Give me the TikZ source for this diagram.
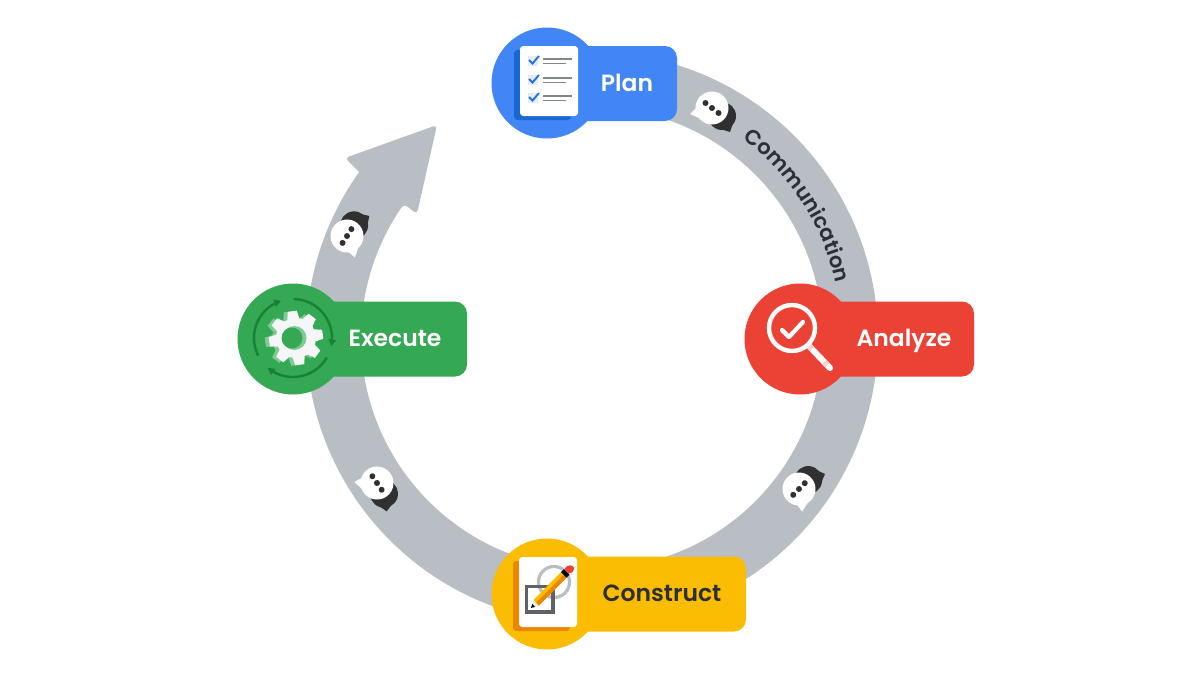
\documentclass[tikz,border=0pt]{standalone}
\usepackage{fontspec}
\setmainfont{Poppins}[BoldFont={Poppins SemiBold}]
\usetikzlibrary{decorations.text,arrows.meta}
\definecolor{ringc}{HTML}{B9BEC4}
\definecolor{gblue}{HTML}{4285F4}
\definecolor{gbluedark}{HTML}{1967D2}
\definecolor{gcheck}{HTML}{1A73E8}
\definecolor{gred}{HTML}{EA4335}
\definecolor{gpink}{HTML}{FAD2CF}
\definecolor{gyellow}{HTML}{FBBC04}
\definecolor{gorange}{HTML}{EA8600}
\definecolor{ggreen}{HTML}{34A853}
\definecolor{ggreendark}{HTML}{188038}
\definecolor{ggreenlight}{HTML}{81C995}
\definecolor{ggrey}{HTML}{80868B}
\definecolor{gdgrey}{HTML}{5F6368}
\definecolor{glgrey}{HTML}{E8EAED}
\definecolor{ink}{HTML}{2B2F36}
\definecolor{bubdark}{HTML}{303030}
\definecolor{gwhite}{HTML}{F5F6F7}
\newcommand{\lblfont}{\fontsize{17.6}{20}\selectfont\bfseries}
\newcommand{\commfont}{\fontsize{15.8}{18}\selectfont\bfseries\color{ink}}
\tikzset{
  x=0.75pt,y=-0.75pt,
  disc/.style={circle,inner sep=0pt,minimum size=111*0.75pt},
  bar/.style={rectangle,rounded corners=9pt,inner sep=0pt,minimum height=75*0.75pt},
  lbl/.style={inner sep=0pt,font=\lblfont},
  card/.style={rounded corners=2.5pt},
  cyc/.style={draw=ggreendark,line width=1.8pt,-{Triangle[length=5pt,width=5.5pt]}},
  bubble/.pic={
    \fill[bubdark] (10,8) circle[radius=14];
    \fill[bubdark] (5,20) -- (18,24) -- (22,12) -- cycle;
    \fill[white] (-22,6) -- (-15,-1) -- (-11,11) -- cycle;
    \fill[white] (0,0) circle[radius=16.5];
    \fill[bubdark] (-6.5,-5) circle[radius=3] (0,0) circle[radius=3] (6.5,5) circle[radius=3];
  },
  gearform/.pic={
    \fill (0,0) circle[radius=20];
    \foreach \a in {8,53,98,143,188,233,278,323}
      \fill[rotate=\a] (17,-6.5) -- (27,-4.5) -- (27,4.5) -- (17,6.5) -- cycle;
  },
  checkrow/.pic={
    \fill[glgrey] (-5,-5) rectangle (5,5);
    \draw[gcheck,line width=1.4pt] (-4,-1) -- (-0.5,2.5) -- (6,-5);
    \draw[ggrey,line width=1.2pt] (10,-2) -- (39,-2);
    \draw[ggrey,line width=1.2pt] (10,2.5) -- (33,2.5);
  }
}
\begin{document}
\begin{tikzpicture}
\useasboundingbox (0,0) rectangle (1200,675);
\fill[white] (0,0) rectangle (1200,675);
% ring with arrow head
\fill[ringc] plot[domain=-90:215.5,samples=150] ({592+286*cos(\x)},{338+286*sin(\x)})
  [rounded corners=3pt] -- (345,158) -- (437,125) -- (417,214)
  -- plot[domain=0:305.5,samples=150] ({592+231*cos(215.5-\x)},{338+231*sin(215.5-\x)}) -- cycle;
\path[decorate,decoration={text along path,text={|\commfont|Communication},text align=center}]
  plot[domain=-55:-10.5,samples=60] ({592+250*cos(\x)},{338+250*sin(\x)});
% bubbles
\pic at (712,108) {bubble};
\pic[rotate=95] at (347,236) {bubble};
\pic[rotate=83] at (799,489) {bubble};
\pic[rotate=-18] at (377,483) {bubble};
% Plan
\node[disc,fill=gblue] (plandisc) at (547,83) {};
\node[bar,fill=gblue,minimum width=130*0.75pt] (planbar) at (612,83.5) {};
\node[lbl,text=white] (planlbl) at (627,82.5) {Plan};
\fill[gbluedark,card] (514,50) rectangle (571,120);
\fill[white,card] (520,46) rectangle (578,116);
\pic at (533,61) {checkrow};
\pic at (533,80) {checkrow};
\pic at (533,98) {checkrow};
% Execute
\node[disc,fill=ggreen] (execdisc) at (293,339) {};
\node[bar,fill=ggreen,minimum width=174*0.75pt] (execbar) at (380,339) {};
\node[lbl,text=white] (execlbl) at (395,338.5) {Execute};
\draw[cyc] plot[domain=207:108,samples=30] ({293+39*cos(-\x)},{338+39*sin(-\x)});
\draw[cyc] plot[domain=89:-12,samples=30] ({293+39*cos(-\x)},{338+39*sin(-\x)});
\draw[cyc] plot[domain=-30:-130,samples=30] ({293+39*cos(-\x)},{338+39*sin(-\x)});
\pic[fill=ggreenlight] at (292,338.5) {gearform};
\pic[fill=gwhite] at (296,338) {gearform};
\fill[ggreenlight] (294.5,338) circle[radius=12];
\fill[ggreen] (292,338) circle[radius=10.5];
% Analyze
\node[disc,fill=gred] (analdisc) at (800,339) {};
\node[bar,fill=gred,minimum width=174*0.75pt] (analbar) at (887,339) {};
\node[lbl,text=white] (anallbl) at (904,341) {Analyze};
\draw[white,line width=3.3pt] (792,328) circle[radius=23];
\draw[white,line width=4.6pt,line cap=round] (809,346) -- (830,368);
\draw[gpink,line width=4.6pt] (809,346) -- (812,349);
\draw[gpink,line width=4.6pt] (824,362) -- (827,365);
\draw[white,line width=3.2pt,line cap=round,line join=round] (782,330) -- (789,337) -- (803,322);
% Construct
\node[disc,fill=gyellow] (consdisc) at (547,594) {};
\node[bar,fill=gyellow,minimum width=199*0.75pt] (consbar) at (646.5,594) {};
\node[lbl,text=ink] (conslbl) at (662,593) {Construct};
\fill[gorange,card] (513,561) rectangle (570,631);
\fill[white,card] (519,557) rectangle (577,627);
\draw[ringc,line width=2.4pt] (554,582) circle[radius=15.5];
\draw[gdgrey,line width=2.4pt] (526.5,586.5) rectangle (553,612);
\fill[glgrey] (531,608) -- (533.5,600) -- (539,605.5) -- cycle;
\fill[black] (531,608) -- (532.3,604) -- (535,606.8) -- cycle;
\fill[gyellow] (533.5,600) -- (561,572) -- (566.5,577.5) -- (539,605.5) -- cycle;
\fill[gorange] (536.2,602.8) -- (563.8,574.8) -- (566.5,577.5) -- (539,605.5) -- cycle;
\fill[black] (561,572) -- (564,569) -- (569.5,574.5) -- (566.5,577.5) -- cycle;
\fill[gred,rounded corners=1.5pt] (564,569) -- (568,565) -- (574,566) -- (574.5,570) -- (569.5,574.5) -- cycle;
\end{tikzpicture}
\end{document}
